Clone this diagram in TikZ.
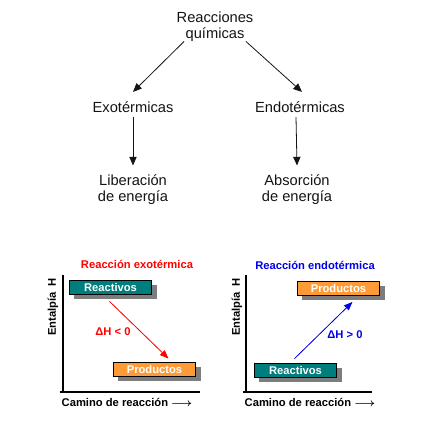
\documentclass[tikz,border=0pt]{standalone}
\usepackage{amsmath}
\usepackage{fontspec}
\setmainfont{Liberation Sans}
\usetikzlibrary{arrows.meta,positioning,calc,shadows}
\definecolor{tinta}{RGB}{20,20,20}
\definecolor{verdeazul}{RGB}{0,125,125}
\definecolor{naranja}{RGB}{255,155,55}
\definecolor{rojo}{RGB}{255,0,0}
\definecolor{azul}{RGB}{0,0,235}
\definecolor{sombra}{RGB}{125,125,125}
\tikzset{
  concepto/.style={font=\fontsize{11}{12}\selectfont, text=tinta, align=center, inner sep=1pt},
  flecha/.style={-{Triangle[length=6.5pt,width=5.5pt]}, line width=0.6pt, draw=tinta},
  nivel/.style={draw=black, line width=0.6pt, minimum width=62pt, minimum height=10.5pt, inner sep=0pt,
    text=white, font=\fontsize{8.4}{9}\selectfont\bfseries,
    drop shadow={shadow xshift=3.5pt, shadow yshift=-3.5pt, fill=sombra, opacity=1}},
  reactivo/.style={nivel, fill=verdeazul},
  producto/.style={nivel, fill=naranja},
  rotulo/.style={font=\fontsize{8.4}{9}\selectfont\bfseries, inner sep=1pt},
  eje/.style={line width=0.9pt, black},
  salto/.style={-{Triangle[length=6.5pt,width=5pt]}, line width=0.6pt}
}
\begin{document}
\begin{tikzpicture}[x=0.75pt,y=-0.75pt]
  \useasboundingbox (0,0) rectangle (426,435);
  % esquema de conceptos
  \node[concepto] (reacc) at (215,27) {Reacciones\\químicas};
  \node[concepto] (exo) at (133,107) {Exotérmicas};
  \node[concepto] (endo) at (300,107) {Endotérmicas};
  \node[concepto] (liber) at (133,190) {Liberación\\de energía};
  \node[concepto] (absor) at (297,190) {Absorción\\de energía};
  \draw[flecha] ($(reacc.south west)+(9,-2)$) -- ($(exo.north)+(0,-8)$);
  \draw[flecha] ($(reacc.south east)+(-9,-2)$) -- ($(endo.north)+(2,-8)$);
  \draw[flecha] ($(exo.south)+(0,3)$) -- ($(liber.north)+(0,-8)$);
  \draw[flecha] ($(endo.south)+(-4,3)$) -- ($(absor.north)+(0,-8)$);
  % diagramas de entalpia
  \foreach \x/\fin in {63/200,246/372}
    \draw[eje] (\x,275) -- (\x,392) -- (\x-3,392) -- (\fin,392);
  \foreach \x in {53,237}
    \node[rotulo,rotate=90] at (\x,307) {Entalpía\ \ H};
  \foreach \x in {127,310}
    \node[rotulo] at (\x,402) {Camino de reacción $\boldsymbol{\longrightarrow}$};
  \node[rotulo,text=rojo] (titExo) at (137,264) {Reacción exotérmica};
  \node[rotulo,text=azul] (titEndo) at (315,265) {Reacción endotérmica};
  \node[reactivo] (rExo) at (110.5,287) {Reactivos};
  \node[producto] (pExo) at (154.5,369) {Productos};
  \node[reactivo] (rEndo) at (295.5,370) {Reactivos};
  \node[producto] (pEndo) at (338.5,288.5) {Productos};
  \draw[salto,draw=rojo,fill=rojo] ($(rExo.south)+(-1,7)$) -- ($(pExo.north)+(14,-3)$);
  \draw[salto,draw=azul,fill=azul] ($(rEndo.north)+(-1,-4)$) -- ($(pEndo.south)+(14,6)$);
  \node[rotulo,text=rojo] (dhExo) at (113,332) {ΔH < 0};
  \node[rotulo,text=azul] (dhEndo) at (345,335) {ΔH > 0};
\end{tikzpicture}
\end{document}
